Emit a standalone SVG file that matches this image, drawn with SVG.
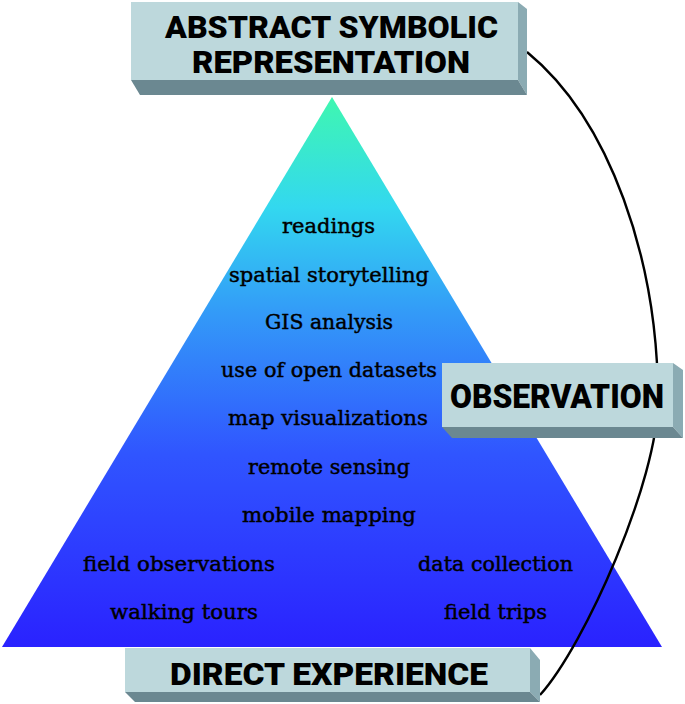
<svg xmlns="http://www.w3.org/2000/svg" width="685" height="704" viewBox="0 0 685 704">
<defs>
<linearGradient id="pyr" x1="0" y1="97" x2="0" y2="647" gradientUnits="userSpaceOnUse">
<stop offset="0" stop-color="#3ff7b0"/>
<stop offset="0.2" stop-color="#33d8ef"/>
<stop offset="0.4" stop-color="#3398f8"/>
<stop offset="0.65" stop-color="#3055ff"/>
<stop offset="1" stop-color="#2a22ff"/>
</linearGradient>
<style>
.front{fill:#bdd8dc}
.side{fill:#8babb3}
.bottom{fill:#6b8891}
.head{font-family:Roboto,"Liberation Sans",sans-serif;font-weight:900;fill:#000;text-anchor:middle}
.item{font-family:"DejaVu Serif","Liberation Serif",serif;font-size:21px;fill:#000;stroke:#000;stroke-width:0.45;text-anchor:middle}
.conn{fill:none;stroke:#000;stroke-width:2.4}
</style>
</defs>
<rect width="685" height="704" fill="#fff"/>
<g id="pyramid">
<polygon points="332,97 662,647 2,647" fill="url(#pyr)"/>
<text class="item" x="328.5" y="233" textLength="93" lengthAdjust="spacingAndGlyphs">readings</text>
<text class="item" x="329" y="282" textLength="200" lengthAdjust="spacingAndGlyphs">spatial storytelling</text>
<text class="item" x="329" y="329" textLength="128" lengthAdjust="spacingAndGlyphs">GIS analysis</text>
<text class="item" x="329" y="377" textLength="216" lengthAdjust="spacingAndGlyphs">use of open datasets</text>
<text class="item" x="328" y="425" textLength="200" lengthAdjust="spacingAndGlyphs">map visualizations</text>
<text class="item" x="329" y="474" textLength="162" lengthAdjust="spacingAndGlyphs">remote sensing</text>
<text class="item" x="329" y="522" textLength="174" lengthAdjust="spacingAndGlyphs">mobile mapping</text>
<text class="item" x="179" y="571" textLength="192" lengthAdjust="spacingAndGlyphs">field observations</text>
<text class="item" x="495.5" y="571" textLength="155" lengthAdjust="spacingAndGlyphs">data collection</text>
<text class="item" x="184" y="619" textLength="148" lengthAdjust="spacingAndGlyphs">walking tours</text>
<text class="item" x="495.5" y="619" textLength="103" lengthAdjust="spacingAndGlyphs">field trips</text>
</g>
<g id="connectors">
<path class="conn" d="M527,52 C610,120 658,260 658,400 C658,480 585,645 540,695"/>
</g>
<g id="abstract">
<polygon class="side" points="518,2 527,9 527,95 518,80"/>
<polygon class="bottom" points="131,80 518,80 527,95 140,95"/>
<rect class="front" x="131" y="2" width="387" height="78"/>
<text class="head" x="331.5" y="38" font-size="32" textLength="333" lengthAdjust="spacingAndGlyphs">ABSTRACT SYMBOLIC</text>
<text class="head" x="331" y="73" font-size="32" textLength="278" lengthAdjust="spacingAndGlyphs">REPRESENTATION</text>
</g>
<g id="observation">
<polygon class="side" points="673,363 683,370 683,438 673,427"/>
<polygon class="bottom" points="442,427 673,427 683,438 452,438"/>
<rect class="front" x="442" y="363" width="231" height="64"/>
<text class="head" x="557" y="408" font-size="34" textLength="214" lengthAdjust="spacingAndGlyphs">OBSERVATION</text>
</g>
<g id="direct">
<polygon class="side" points="530,648 540,660 540,702 530,692"/>
<polygon class="bottom" points="125,692 530,692 540,702 135,702"/>
<rect class="front" x="125" y="648" width="405" height="44"/>
<text class="head" x="329" y="685" font-size="32" textLength="318" lengthAdjust="spacingAndGlyphs">DIRECT EXPERIENCE</text>
</g>
</svg>
